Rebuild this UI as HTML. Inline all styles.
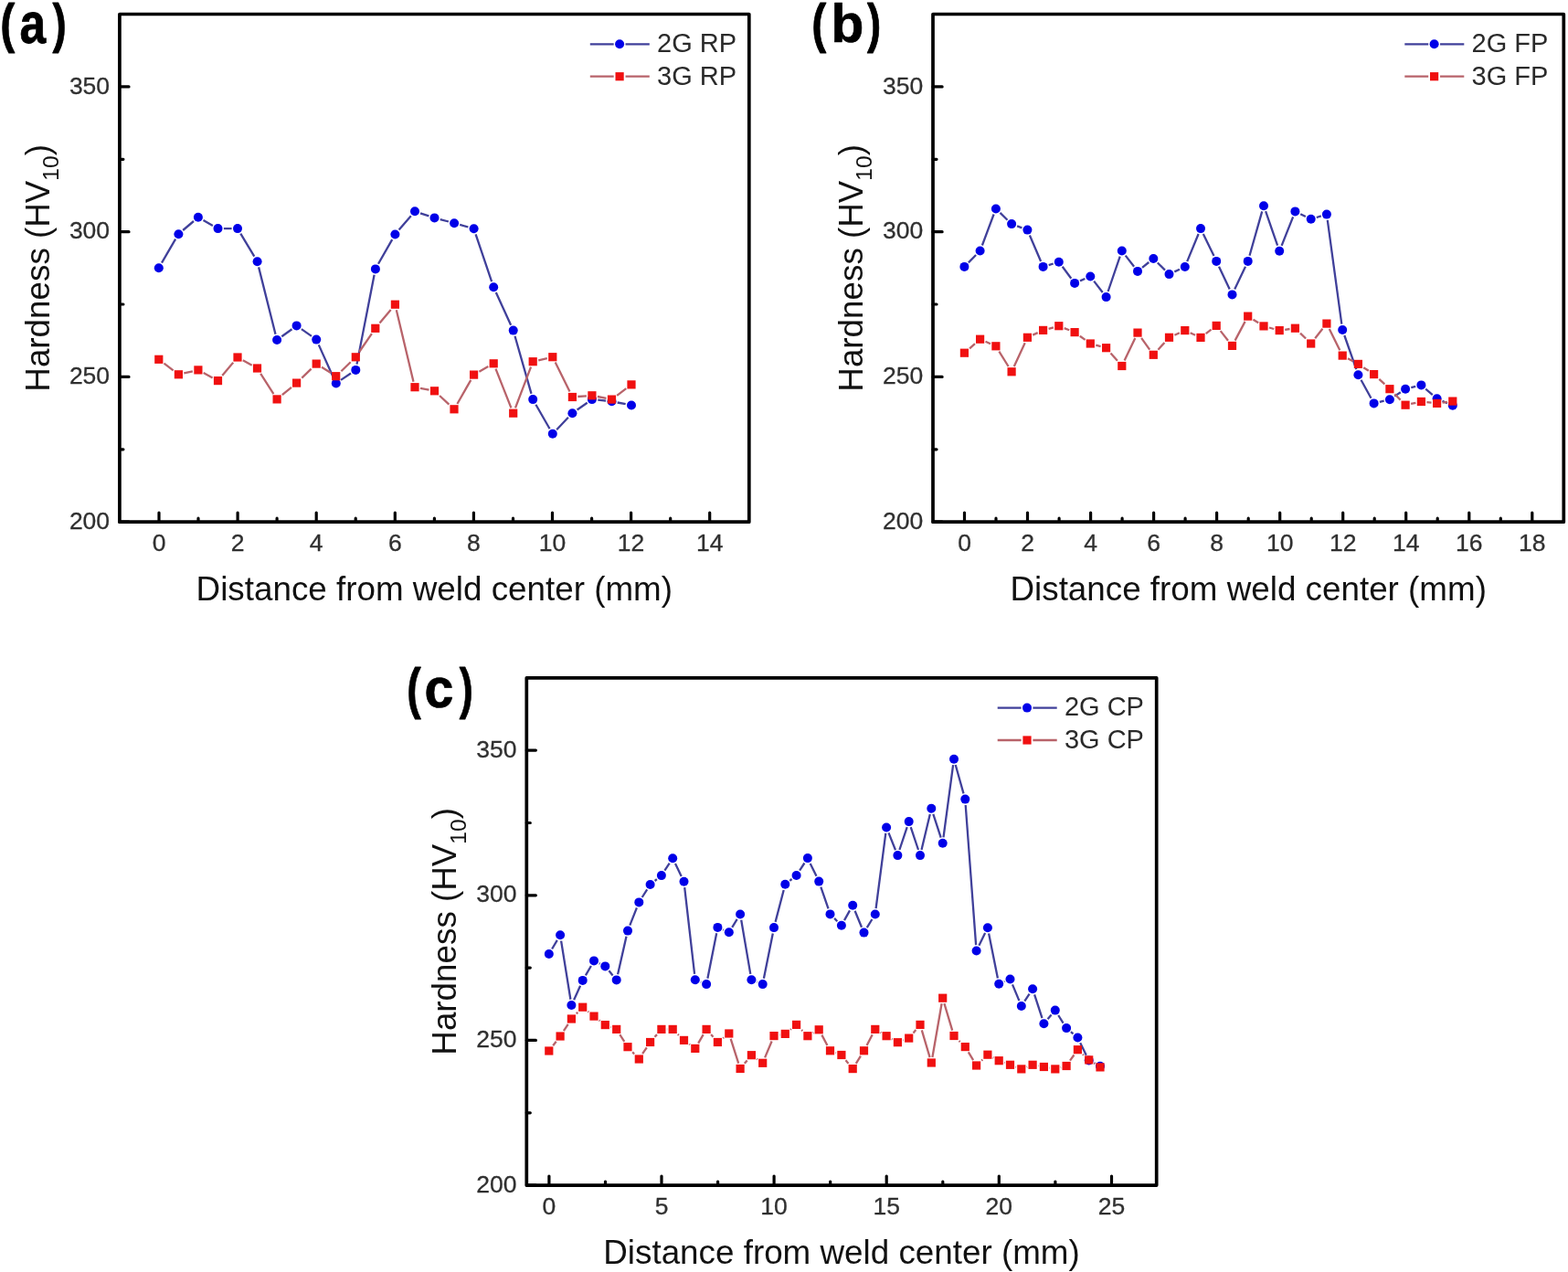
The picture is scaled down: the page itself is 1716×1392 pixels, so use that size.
<!DOCTYPE html><html><head><meta charset="utf-8"><title>Hardness profiles</title><style>
html,body{margin:0;padding:0;background:#fff;width:1716px;height:1392px;overflow:hidden}
svg{display:block}
text{font-family:"Liberation Sans", Arial, Helvetica, sans-serif}
.tl{font-size:26.5px;fill:#303030;stroke:#303030;stroke-width:0.3px}
.ax{font-size:36.8px;fill:#111}
.lg{font-size:29px;fill:#2a2a2a}
.pl{font-size:100px;font-weight:bold;fill:#000;stroke:#000;stroke-width:0.7px;vector-effect:non-scaling-stroke;stroke-linejoin:round}
</style></head><body>
<svg width="1716" height="1392" viewBox="0 0 1716 1392">
<rect width="1716" height="1392" fill="#fff"/>
<g id="panel-a">
<path d="M130.9 571.2H141M130.9 412.4H141M130.9 253.7H141M130.9 94.9H141M130.9 491.8H134.9M130.9 333H134.9M130.9 174.3H134.9M174 571.2V561.1M217 571.2V567.2M260.1 571.2V561.1M303.1 571.2V567.2M346.2 571.2V561.1M389.2 571.2V567.2M432.3 571.2V561.1M475.4 571.2V567.2M518.4 571.2V561.1M561.5 571.2V567.2M604.5 571.2V561.1M647.6 571.2V567.2M690.6 571.2V561.1M733.7 571.2V567.2M776.7 571.2V561.1" stroke="#000" stroke-width="3.2" stroke-linecap="round" fill="none"/>
<rect x="130.9" y="15.5" width="688.9" height="555.7" fill="none" stroke="#000" stroke-width="3.7" stroke-linejoin="round"/>
<text class="tl" x="120.1" y="578.8" text-anchor="end">200</text>
<text class="tl" x="120.1" y="420" text-anchor="end">250</text>
<text class="tl" x="120.1" y="261.3" text-anchor="end">300</text>
<text class="tl" x="120.1" y="102.5" text-anchor="end">350</text>
<text class="tl" x="174" y="603.2" text-anchor="middle">0</text>
<text class="tl" x="260.1" y="603.2" text-anchor="middle">2</text>
<text class="tl" x="346.2" y="603.2" text-anchor="middle">4</text>
<text class="tl" x="432.3" y="603.2" text-anchor="middle">6</text>
<text class="tl" x="518.4" y="603.2" text-anchor="middle">8</text>
<text class="tl" x="604.5" y="603.2" text-anchor="middle">10</text>
<text class="tl" x="690.6" y="603.2" text-anchor="middle">12</text>
<text class="tl" x="776.7" y="603.2" text-anchor="middle">14</text>
<text class="ax" x="475.3" y="656.7" text-anchor="middle">Distance from weld center (mm)</text>
<text class="ax" transform="translate(53.7 293.4) rotate(-90)" text-anchor="middle">Hardness (HV<tspan font-size="24.5px" dy="10.6">10</tspan><tspan dy="-10.6">)</tspan></text>
<path d="M177 287.7L192.1 261.7M200.2 252L212 242M222.5 241L232.9 246.9M244.9 250.1L253.6 250.1M263.3 255.6L278.3 280.7M283.1 292.4L301.5 365.8M308.3 368.2L319.5 360.2M329.9 360.1L341 367.9M348.8 377.4L365.1 413.7M373 415.9L384 408.5M390.5 398.6L409.6 300.7M414 288.8L429.2 262.1M436.6 251.6L449.8 236.2M460 233.3L469.4 236.4M481.7 240.1L490.9 242.5M503.2 245.9L512.4 248.5M520.6 256.3L538.1 308.1M542.8 320L559.1 355.8M563.5 367.8L581.5 430.9M586.4 442.7L601.6 469.2M609.2 470.2L621.9 456.8M631.6 448.5L642.7 440.8M654.3 437.7L663.1 438.6M675.7 440.5L684.7 442.2" stroke="#40409a" stroke-width="2.3" fill="none"/>
<g fill="#0000e8"><circle cx="173.8" cy="293.2" r="5.0"/><circle cx="195.4" cy="256.2" r="5.0"/><circle cx="216.9" cy="237.8" r="5.0"/><circle cx="238.5" cy="250.1" r="5.0"/><circle cx="260" cy="250.1" r="5.0"/><circle cx="281.6" cy="286.2" r="5.0"/><circle cx="303.1" cy="372" r="5.0"/><circle cx="324.6" cy="356.4" r="5.0"/><circle cx="346.2" cy="371.6" r="5.0"/><circle cx="367.8" cy="419.5" r="5.0"/><circle cx="389.3" cy="404.9" r="5.0"/><circle cx="410.9" cy="294.4" r="5.0"/><circle cx="432.4" cy="256.5" r="5.0"/><circle cx="454" cy="231.3" r="5.0"/><circle cx="475.5" cy="238.4" r="5.0"/><circle cx="497.1" cy="244.2" r="5.0"/><circle cx="518.6" cy="250.2" r="5.0"/><circle cx="540.2" cy="314.2" r="5.0"/><circle cx="561.7" cy="361.6" r="5.0"/><circle cx="583.2" cy="437.1" r="5.0"/><circle cx="604.8" cy="474.8" r="5.0"/><circle cx="626.4" cy="452.2" r="5.0"/><circle cx="647.9" cy="437.1" r="5.0"/><circle cx="669.5" cy="439.2" r="5.0"/><circle cx="691" cy="443.5" r="5.0"/></g>
<path d="M179.5 397.7L189.6 405.4M201.3 408.4L210.9 406.3M222.7 408.1L232.6 413.4M243.2 410.9L255.2 396.7M265.8 394.2L275.7 399.8M285.2 408.8L299.4 431.1M308.8 432.2L319 423.8M330.3 413.6L340.6 403.6M352 401.8L362 408M373.4 406.3L383.7 396.2M393.2 385L406.9 365.1M415.5 353.6L427.7 338.9M433.8 339.2L452.5 417.7M459.9 424.8L469.5 426.7M481.1 433L491.4 442.6M500.4 442L515.3 415.9M524.4 406.8L534.3 401.1M542.5 403.7L559.4 446.3M564 446.3L581 401.6M589.2 394.3L598.8 392.1M607.7 396.6L623.5 428.6M632.3 434L641.9 433.3M653.9 434L663.5 435.9M675.2 432.8L685.3 425.2" stroke="#b8636a" stroke-width="2.3" fill="none"/>
<g fill="#f01010"><rect x="169.2" y="388.7" width="9.2" height="9.2"/><rect x="190.8" y="405.2" width="9.2" height="9.2"/><rect x="212.3" y="400.3" width="9.2" height="9.2"/><rect x="233.9" y="412" width="9.2" height="9.2"/><rect x="255.4" y="386.4" width="9.2" height="9.2"/><rect x="276.9" y="398.4" width="9.2" height="9.2"/><rect x="298.5" y="432.3" width="9.2" height="9.2"/><rect x="320" y="414.5" width="9.2" height="9.2"/><rect x="341.6" y="393.5" width="9.2" height="9.2"/><rect x="363.1" y="407.1" width="9.2" height="9.2"/><rect x="384.7" y="386.2" width="9.2" height="9.2"/><rect x="406.2" y="354.7" width="9.2" height="9.2"/><rect x="427.8" y="328.6" width="9.2" height="9.2"/><rect x="449.4" y="419.1" width="9.2" height="9.2"/><rect x="470.9" y="423.2" width="9.2" height="9.2"/><rect x="492.4" y="443.2" width="9.2" height="9.2"/><rect x="514" y="405.5" width="9.2" height="9.2"/><rect x="535.6" y="393.2" width="9.2" height="9.2"/><rect x="557.1" y="447.6" width="9.2" height="9.2"/><rect x="578.6" y="391.1" width="9.2" height="9.2"/><rect x="600.2" y="386.1" width="9.2" height="9.2"/><rect x="621.8" y="429.9" width="9.2" height="9.2"/><rect x="643.3" y="428.2" width="9.2" height="9.2"/><rect x="664.9" y="432.5" width="9.2" height="9.2"/><rect x="686.4" y="416.3" width="9.2" height="9.2"/></g>
<path d="M645.8 48.3H671.7M684.5 48.3H710.8" stroke="#40409a" stroke-width="2.3" fill="none"/>
<circle cx="678.1" cy="48.3" r="5.0" fill="#0000e8"/>
<text class="lg" x="719" y="57.1">2G RP</text>
<path d="M645.8 83.7H671.7M684.5 83.7H710.8" stroke="#b8636a" stroke-width="2.3" fill="none"/>
<rect x="673.5" y="79.1" width="9.2" height="9.2" fill="#f01010"/>
<text class="lg" x="719" y="92.5">3G RP</text>
</g>
<g id="panel-b">
<path d="M1021 571.2H1031.1M1021 412.4H1031.1M1021 253.7H1031.1M1021 94.9H1031.1M1021 491.8H1025M1021 333H1025M1021 174.3H1025M1055.5 571.2V561.1M1090 571.2V567.2M1124.5 571.2V561.1M1159.1 571.2V567.2M1193.6 571.2V561.1M1228.1 571.2V567.2M1262.6 571.2V561.1M1297.1 571.2V567.2M1331.6 571.2V561.1M1366.2 571.2V567.2M1400.7 571.2V561.1M1435.2 571.2V567.2M1469.7 571.2V561.1M1504.2 571.2V567.2M1538.7 571.2V561.1M1573.2 571.2V567.2M1607.8 571.2V561.1M1642.3 571.2V567.2M1676.8 571.2V561.1" stroke="#000" stroke-width="3.2" stroke-linecap="round" fill="none"/>
<rect x="1021" y="15.5" width="690.3" height="555.7" fill="none" stroke="#000" stroke-width="3.7" stroke-linejoin="round"/>
<text class="tl" x="1010.2" y="578.8" text-anchor="end">200</text>
<text class="tl" x="1010.2" y="420" text-anchor="end">250</text>
<text class="tl" x="1010.2" y="261.3" text-anchor="end">300</text>
<text class="tl" x="1010.2" y="102.5" text-anchor="end">350</text>
<text class="tl" x="1055.5" y="603.2" text-anchor="middle">0</text>
<text class="tl" x="1124.5" y="603.2" text-anchor="middle">2</text>
<text class="tl" x="1193.6" y="603.2" text-anchor="middle">4</text>
<text class="tl" x="1262.6" y="603.2" text-anchor="middle">6</text>
<text class="tl" x="1331.6" y="603.2" text-anchor="middle">8</text>
<text class="tl" x="1400.7" y="603.2" text-anchor="middle">10</text>
<text class="tl" x="1469.7" y="603.2" text-anchor="middle">12</text>
<text class="tl" x="1538.7" y="603.2" text-anchor="middle">14</text>
<text class="tl" x="1607.8" y="603.2" text-anchor="middle">16</text>
<text class="tl" x="1676.8" y="603.2" text-anchor="middle">18</text>
<text class="ax" x="1366.2" y="656.7" text-anchor="middle">Distance from weld center (mm)</text>
<text class="ax" transform="translate(943.8 293.4) rotate(-90)" text-anchor="middle">Hardness (HV<tspan font-size="24.5px" dy="10.6">10</tspan><tspan dy="-10.6">)</tspan></text>
<path d="M1059.9 287.4L1068.1 279M1074.9 268.5L1087.6 234.5M1094.5 232.9L1102.5 240.7M1113.1 247.4L1118.4 249.3M1126.9 257.5L1139.1 286M1147.7 290.1L1152.7 288.5M1162.7 291.8L1172.3 304.8M1182 307.4L1187.4 305M1197.2 307.6L1206.7 320M1212.6 319L1225.7 280.6M1231.7 279.6L1241.1 291.8M1250 292.9L1257.3 287M1266.8 287.5L1275 295.6M1285.3 297.4L1291 294.7M1299.2 286.1L1311.6 256M1316.8 255.9L1328.5 280.1M1334 291.7L1345.7 316.6M1351.2 316.6L1363 291.7M1367.5 279.7L1381.2 231.4M1385.1 231.2L1398.1 268.7M1402.6 268.8L1415.1 237.3M1423.2 234.2L1428.9 237M1440.8 238L1445.8 236.4M1452.8 240.9L1468.3 354.7M1471.3 367L1484.3 404.2M1489.5 415.8L1500.5 435.8M1509.9 439.9L1514.7 438.7M1526.2 433.6L1532.8 429.3M1544.3 424.2L1549.2 422.9M1560.2 425.6L1567.8 432.1M1578.5 438.9L1584 441.2" stroke="#40409a" stroke-width="2.3" fill="none"/>
<g fill="#0000e8"><circle cx="1055.4" cy="291.9" r="5.0"/><circle cx="1072.6" cy="274.5" r="5.0"/><circle cx="1089.9" cy="228.5" r="5.0"/><circle cx="1107.1" cy="245.1" r="5.0"/><circle cx="1124.4" cy="251.6" r="5.0"/><circle cx="1141.6" cy="291.9" r="5.0"/><circle cx="1158.8" cy="286.7" r="5.0"/><circle cx="1176.1" cy="309.9" r="5.0"/><circle cx="1193.3" cy="302.5" r="5.0"/><circle cx="1210.6" cy="325.1" r="5.0"/><circle cx="1227.8" cy="274.5" r="5.0"/><circle cx="1245" cy="296.9" r="5.0"/><circle cx="1262.3" cy="283" r="5.0"/><circle cx="1279.5" cy="300.1" r="5.0"/><circle cx="1296.8" cy="292" r="5.0"/><circle cx="1314" cy="250.1" r="5.0"/><circle cx="1331.2" cy="285.9" r="5.0"/><circle cx="1348.5" cy="322.4" r="5.0"/><circle cx="1365.7" cy="285.9" r="5.0"/><circle cx="1383" cy="225.2" r="5.0"/><circle cx="1400.2" cy="274.7" r="5.0"/><circle cx="1417.4" cy="231.4" r="5.0"/><circle cx="1434.7" cy="239.8" r="5.0"/><circle cx="1451.9" cy="234.6" r="5.0"/><circle cx="1469.2" cy="361" r="5.0"/><circle cx="1486.4" cy="410.2" r="5.0"/><circle cx="1503.6" cy="441.4" r="5.0"/><circle cx="1520.9" cy="437.2" r="5.0"/><circle cx="1538.1" cy="425.7" r="5.0"/><circle cx="1555.4" cy="421.4" r="5.0"/><circle cx="1572.6" cy="436.3" r="5.0"/><circle cx="1589.8" cy="443.8" r="5.0"/></g>
<path d="M1061.1 381.3L1067 376.1M1078.5 373.8L1084 376.2M1093.4 384.6L1103.6 401M1109.8 400.9L1121.7 375.2M1130.2 366.6L1135.7 364.1M1147.6 359.8L1152.9 358.3M1164.7 359.1L1170.2 361.2M1181.8 367.7L1187.6 371.9M1199.3 377.6L1204.6 379.1M1215.5 386.4L1222.9 394.8M1230.6 394.6L1242.3 370M1249.1 369.8L1258.2 382.6M1267.4 382.7L1274.4 374.9M1285.4 366.7L1290.9 364.2M1302.6 364.3L1308.1 366.7M1319.7 365.1L1325.5 360.7M1335.7 362.1L1344 372.7M1351.6 372.6L1362.6 351.9M1371.5 349.7L1377.2 353.3M1388.9 358.5L1394.2 360M1406.2 360.8L1411.5 360M1423 364.7L1429.1 370.5M1439.2 370.3L1447.4 359.8M1454.8 360L1466.3 383.2M1475 392.2L1480.6 395.3M1492.2 402.2L1497.9 405.8M1509.3 414.9L1515.3 420.4M1526.4 431.3L1532.6 437.6M1544.1 441.9L1549.4 440.8M1561.4 440.2L1566.6 440.7M1578.6 440.6L1583.9 439.9" stroke="#b8636a" stroke-width="2.3" fill="none"/>
<g fill="#f01010"><rect x="1050.8" y="381.6" width="9.2" height="9.2"/><rect x="1068" y="366.6" width="9.2" height="9.2"/><rect x="1085.3" y="374.2" width="9.2" height="9.2"/><rect x="1102.5" y="402.2" width="9.2" height="9.2"/><rect x="1119.8" y="364.7" width="9.2" height="9.2"/><rect x="1137" y="356.8" width="9.2" height="9.2"/><rect x="1154.2" y="352.1" width="9.2" height="9.2"/><rect x="1171.5" y="359" width="9.2" height="9.2"/><rect x="1188.7" y="371.4" width="9.2" height="9.2"/><rect x="1206" y="376.1" width="9.2" height="9.2"/><rect x="1223.2" y="395.9" width="9.2" height="9.2"/><rect x="1240.4" y="359.5" width="9.2" height="9.2"/><rect x="1257.7" y="383.7" width="9.2" height="9.2"/><rect x="1274.9" y="364.7" width="9.2" height="9.2"/><rect x="1292.2" y="357" width="9.2" height="9.2"/><rect x="1309.4" y="364.8" width="9.2" height="9.2"/><rect x="1326.6" y="351.8" width="9.2" height="9.2"/><rect x="1343.9" y="373.8" width="9.2" height="9.2"/><rect x="1361.1" y="341.5" width="9.2" height="9.2"/><rect x="1378.4" y="352.3" width="9.2" height="9.2"/><rect x="1395.6" y="357" width="9.2" height="9.2"/><rect x="1412.8" y="354.6" width="9.2" height="9.2"/><rect x="1430.1" y="371.4" width="9.2" height="9.2"/><rect x="1447.3" y="349.5" width="9.2" height="9.2"/><rect x="1464.6" y="384.5" width="9.2" height="9.2"/><rect x="1481.8" y="393.8" width="9.2" height="9.2"/><rect x="1499" y="405" width="9.2" height="9.2"/><rect x="1516.3" y="421.1" width="9.2" height="9.2"/><rect x="1533.5" y="438.6" width="9.2" height="9.2"/><rect x="1550.8" y="434.9" width="9.2" height="9.2"/><rect x="1568" y="436.8" width="9.2" height="9.2"/><rect x="1585.2" y="434.5" width="9.2" height="9.2"/></g>
<path d="M1537.3 48.3H1563.2M1576 48.3H1602.3" stroke="#40409a" stroke-width="2.3" fill="none"/>
<circle cx="1569.6" cy="48.3" r="5.0" fill="#0000e8"/>
<text class="lg" x="1610.5" y="57.1">2G FP</text>
<path d="M1537.3 83.7H1563.2M1576 83.7H1602.3" stroke="#b8636a" stroke-width="2.3" fill="none"/>
<rect x="1565" y="79.1" width="9.2" height="9.2" fill="#f01010"/>
<text class="lg" x="1610.5" y="92.5">3G FP</text>
</g>
<g id="panel-c">
<path d="M576.3 1297.1H586.4M576.3 1138.4H586.4M576.3 979.8H586.4M576.3 821.1H586.4M576.3 1217.8H580.3M576.3 1059.1H580.3M576.3 900.5H580.3M600.9 1297.1V1287M662.5 1297.1V1293.1M724 1297.1V1287M785.6 1297.1V1293.1M847.1 1297.1V1287M908.7 1297.1V1293.1M970.2 1297.1V1287M1031.8 1297.1V1293.1M1093.3 1297.1V1287M1154.9 1297.1V1293.1M1216.5 1297.1V1287" stroke="#000" stroke-width="3.2" stroke-linecap="round" fill="none"/>
<rect x="576.3" y="741.8" width="689.4" height="555.3" fill="none" stroke="#000" stroke-width="3.7" stroke-linejoin="round"/>
<text class="tl" x="565.5" y="1304.7" text-anchor="end">200</text>
<text class="tl" x="565.5" y="1146" text-anchor="end">250</text>
<text class="tl" x="565.5" y="987.4" text-anchor="end">300</text>
<text class="tl" x="565.5" y="828.7" text-anchor="end">350</text>
<text class="tl" x="600.9" y="1329.1" text-anchor="middle">0</text>
<text class="tl" x="724" y="1329.1" text-anchor="middle">5</text>
<text class="tl" x="847.1" y="1329.1" text-anchor="middle">10</text>
<text class="tl" x="970.2" y="1329.1" text-anchor="middle">15</text>
<text class="tl" x="1093.3" y="1329.1" text-anchor="middle">20</text>
<text class="tl" x="1216.5" y="1329.1" text-anchor="middle">25</text>
<text class="ax" x="921" y="1382.6" text-anchor="middle">Distance from weld center (mm)</text>
<text class="ax" transform="translate(499.1 1019.4) rotate(-90)" text-anchor="middle">Hardness (HV<tspan font-size="24.5px" dy="10.6">10</tspan><tspan dy="-10.6">)</tspan></text>
<path d="M604.1 1038.5L609.8 1028.8M614.1 1029.6L624.4 1093.7M628.1 1094.2L635.1 1078.7M640.9 1067.3L646.9 1057M655.8 1054.2L656.6 1054.6M666.4 1062.3L670.6 1067.5M676.1 1066.2L685.5 1024.8M689.3 1012.6L696.9 993.4M702.7 982L708.2 973.4M716.6 964L718.9 962.1M727.4 952.7L732.7 944.7M739 945.1L745.7 959M749.2 971.2L760.1 1065.9M766.8 1074.6L767.2 1074.8M774.4 1070.8L784.2 1021.2M791.3 1017.4L791.9 1017.7M801.2 1014.8L806.7 1005.9M811.2 1006.8L821.3 1065.9M828.3 1074.6L828.7 1074.7M835.9 1070.8L845.8 1021.4M848.6 1008.9L857.7 974M864.3 963.8L866.6 962M875.1 952.6L880.4 944.5M886.7 944.9L893.5 958.8M898.3 970.7L906.5 994.3M913.1 1004.9L916.3 1008.2M924 1007.1L930 996.4M935.6 996.7L943 1014.7M948.8 1015.1L954.4 1006M958.6 994.2L969.3 911.8M972.5 911.4L980 930.2M984.4 930L992.7 905.2M996.7 905.2L1005 930M1008.5 929.9L1017.8 890.9M1021.3 890.8L1029.7 916.6M1032.5 916.4L1043.1 837.1M1045.7 837L1054.5 868.4M1056.7 881L1068.1 1034.1M1071.4 1034.7L1078.1 1021M1082.1 1021.5L1091.9 1070.5M1099.1 1074.3L1099.6 1074M1108 1077.4L1115.4 1095.1M1121.3 1095.7L1126.6 1087.6M1132.1 1088.4L1140.5 1114.1M1146.6 1115.3L1150.6 1110.5M1158.2 1111L1163.6 1119.7M1171.9 1129.2L1174.5 1131.4M1182.2 1141.2L1188.8 1154.7M1197.4 1163.4L1198.3 1163.8" stroke="#40409a" stroke-width="2.3" fill="none"/>
<g fill="#0000e8"><circle cx="600.8" cy="1044" r="5.0"/><circle cx="613.1" cy="1023.3" r="5.0"/><circle cx="625.4" cy="1100" r="5.0"/><circle cx="637.7" cy="1072.9" r="5.0"/><circle cx="650" cy="1051.4" r="5.0"/><circle cx="662.3" cy="1057.4" r="5.0"/><circle cx="674.7" cy="1072.4" r="5.0"/><circle cx="687" cy="1018.6" r="5.0"/><circle cx="699.3" cy="987.4" r="5.0"/><circle cx="711.6" cy="968" r="5.0"/><circle cx="723.9" cy="958.1" r="5.0"/><circle cx="736.2" cy="939.3" r="5.0"/><circle cx="748.5" cy="964.8" r="5.0"/><circle cx="760.8" cy="1072.3" r="5.0"/><circle cx="773.1" cy="1077.1" r="5.0"/><circle cx="785.4" cy="1014.9" r="5.0"/><circle cx="797.8" cy="1020.2" r="5.0"/><circle cx="810.1" cy="1000.5" r="5.0"/><circle cx="822.4" cy="1072.2" r="5.0"/><circle cx="834.7" cy="1077.1" r="5.0"/><circle cx="847" cy="1015.1" r="5.0"/><circle cx="859.3" cy="967.8" r="5.0"/><circle cx="871.6" cy="958" r="5.0"/><circle cx="883.9" cy="939.1" r="5.0"/><circle cx="896.2" cy="964.6" r="5.0"/><circle cx="908.5" cy="1000.4" r="5.0"/><circle cx="920.9" cy="1012.7" r="5.0"/><circle cx="933.2" cy="990.8" r="5.0"/><circle cx="945.5" cy="1020.6" r="5.0"/><circle cx="957.8" cy="1000.5" r="5.0"/><circle cx="970.1" cy="905.5" r="5.0"/><circle cx="982.4" cy="936.1" r="5.0"/><circle cx="994.7" cy="899.1" r="5.0"/><circle cx="1007" cy="936.1" r="5.0"/><circle cx="1019.3" cy="884.7" r="5.0"/><circle cx="1031.7" cy="922.7" r="5.0"/><circle cx="1044" cy="830.8" r="5.0"/><circle cx="1056.3" cy="874.6" r="5.0"/><circle cx="1068.6" cy="1040.5" r="5.0"/><circle cx="1080.9" cy="1015.2" r="5.0"/><circle cx="1093.2" cy="1076.8" r="5.0"/><circle cx="1105.5" cy="1071.5" r="5.0"/><circle cx="1117.8" cy="1101" r="5.0"/><circle cx="1130.1" cy="1082.3" r="5.0"/><circle cx="1142.4" cy="1120.2" r="5.0"/><circle cx="1154.8" cy="1105.6" r="5.0"/><circle cx="1167.1" cy="1125.1" r="5.0"/><circle cx="1179.4" cy="1135.5" r="5.0"/><circle cx="1191.7" cy="1160.4" r="5.0"/><circle cx="1204" cy="1166.8" r="5.0"/></g>
<path d="M605.2 1144.3L608.7 1139.7M616.9 1128.2L621.7 1120.8M630.8 1109.4L632.3 1107.8M643.4 1106.8L644.3 1107.5M655.7 1116.5L656.6 1117.2M668.3 1123.9L668.8 1124.1M678.3 1132.2L683.3 1139.9M692.2 1151.3L694.1 1153.4M703.1 1153.2L707.8 1146.3M716.5 1134.8L719 1132.1M729.9 1126.4L730.2 1126.4M741.8 1131.9L742.9 1132.9M754.3 1142.6L755.1 1143.2M764.2 1141.6L769.7 1132.2M778.1 1132.1L780.5 1134.8M791.2 1136.1L792.1 1135.4M799.7 1136.9L808.2 1163.6M814.8 1163.8L817.7 1160.4M828.1 1158.7L828.9 1159.3M837.1 1157.4L844.6 1139.5M853 1132.5L853.3 1132.5M865 1126.8L865.9 1126M877.2 1127L878.3 1128.1M889.8 1130.4L890.4 1130.1M899.4 1132.6L905.4 1144M914.5 1152.1L915 1152.2M925.5 1160.2L928.5 1163.9M936.8 1163.8L941.9 1155.6M948.6 1144L954.7 1132.2M963.6 1129.8L964.3 1130.3M975.9 1137L976.6 1137.4M988.3 1138.5L988.8 1138.3M999.5 1130.4L1002.3 1127.1M1008.8 1127.3L1017.6 1157.1M1020.4 1157L1030.6 1098.2M1033.4 1098.1L1042.2 1127.6M1049.6 1139L1050.7 1140.1M1059.8 1151.4L1065.1 1160.2M1074.2 1160.6L1075.3 1159.6M1086.7 1157.3L1087.4 1157.6M1099.1 1162.9L1099.6 1163.1M1111.4 1167.5L1111.9 1167.7M1123.7 1167.7L1124.2 1167.5M1136.1 1166.4L1136.5 1166.4M1148.4 1168.7L1148.8 1168.7M1160.7 1168.3L1161.1 1168.1M1171 1160.7L1175.4 1154.5M1185 1153.8L1186 1154.8M1197.5 1163.7L1198.2 1164.1" stroke="#b8636a" stroke-width="2.3" fill="none"/>
<g fill="#f01010"><rect x="596.2" y="1145.4" width="9.2" height="9.2"/><rect x="608.5" y="1129.4" width="9.2" height="9.2"/><rect x="620.8" y="1110.4" width="9.2" height="9.2"/><rect x="633.1" y="1097.6" width="9.2" height="9.2"/><rect x="645.4" y="1107.5" width="9.2" height="9.2"/><rect x="657.7" y="1117" width="9.2" height="9.2"/><rect x="670.1" y="1121.8" width="9.2" height="9.2"/><rect x="682.4" y="1141.1" width="9.2" height="9.2"/><rect x="694.7" y="1154.4" width="9.2" height="9.2"/><rect x="707" y="1135.9" width="9.2" height="9.2"/><rect x="719.3" y="1121.8" width="9.2" height="9.2"/><rect x="731.6" y="1121.8" width="9.2" height="9.2"/><rect x="743.9" y="1133.8" width="9.2" height="9.2"/><rect x="756.2" y="1142.8" width="9.2" height="9.2"/><rect x="768.5" y="1121.8" width="9.2" height="9.2"/><rect x="780.8" y="1135.9" width="9.2" height="9.2"/><rect x="793.2" y="1126.4" width="9.2" height="9.2"/><rect x="805.5" y="1164.9" width="9.2" height="9.2"/><rect x="817.8" y="1150.1" width="9.2" height="9.2"/><rect x="830.1" y="1158.7" width="9.2" height="9.2"/><rect x="842.4" y="1129" width="9.2" height="9.2"/><rect x="854.7" y="1126.8" width="9.2" height="9.2"/><rect x="867" y="1116.8" width="9.2" height="9.2"/><rect x="879.3" y="1129.1" width="9.2" height="9.2"/><rect x="891.6" y="1122.2" width="9.2" height="9.2"/><rect x="903.9" y="1145.2" width="9.2" height="9.2"/><rect x="916.3" y="1149.9" width="9.2" height="9.2"/><rect x="928.6" y="1165" width="9.2" height="9.2"/><rect x="940.9" y="1145.2" width="9.2" height="9.2"/><rect x="953.2" y="1121.8" width="9.2" height="9.2"/><rect x="965.5" y="1129.1" width="9.2" height="9.2"/><rect x="977.8" y="1136.1" width="9.2" height="9.2"/><rect x="990.1" y="1131.5" width="9.2" height="9.2"/><rect x="1002.4" y="1116.8" width="9.2" height="9.2"/><rect x="1014.7" y="1158.4" width="9.2" height="9.2"/><rect x="1027.1" y="1087.6" width="9.2" height="9.2"/><rect x="1039.4" y="1128.9" width="9.2" height="9.2"/><rect x="1051.7" y="1141" width="9.2" height="9.2"/><rect x="1064" y="1161.4" width="9.2" height="9.2"/><rect x="1076.3" y="1149.6" width="9.2" height="9.2"/><rect x="1088.6" y="1156.1" width="9.2" height="9.2"/><rect x="1100.9" y="1160.7" width="9.2" height="9.2"/><rect x="1113.2" y="1165.3" width="9.2" height="9.2"/><rect x="1125.5" y="1160.7" width="9.2" height="9.2"/><rect x="1137.8" y="1162.9" width="9.2" height="9.2"/><rect x="1150.2" y="1165.3" width="9.2" height="9.2"/><rect x="1162.5" y="1161.9" width="9.2" height="9.2"/><rect x="1174.8" y="1144.1" width="9.2" height="9.2"/><rect x="1187.1" y="1155.3" width="9.2" height="9.2"/><rect x="1199.4" y="1163.3" width="9.2" height="9.2"/></g>
<path d="M1091.7 774.6H1117.6M1130.4 774.6H1156.7" stroke="#40409a" stroke-width="2.3" fill="none"/>
<circle cx="1124" cy="774.6" r="5.0" fill="#0000e8"/>
<text class="lg" x="1164.9" y="783.4">2G CP</text>
<path d="M1091.7 810H1117.6M1130.4 810H1156.7" stroke="#b8636a" stroke-width="2.3" fill="none"/>
<rect x="1119.4" y="805.4" width="9.2" height="9.2" fill="#f01010"/>
<text class="lg" x="1164.9" y="818.8">3G CP</text>
</g>
<g>
<text class="pl" transform="matrix(0.4804 0 0 0.5976 0.15 46.18)">(</text>
<text class="pl" transform="matrix(0.5159 0 0 0.6307 21.45 46.98)">a</text>
<text class="pl" transform="matrix(0.4591 0 0 0.5976 57.60 46.18)">)</text>
<text class="pl" transform="matrix(0.4804 0 0 0.6009 888.35 46.41)">(</text>
<text class="pl" transform="matrix(0.5865 0 0 0.5967 909.58 46.11)">b</text>
<text class="pl" transform="matrix(0.4555 0 0 0.6009 949.00 46.41)">)</text>
<text class="pl" transform="matrix(0.4626 0 0 0.6062 445.34 773.90)">(</text>
<text class="pl" transform="matrix(0.5729 0 0 0.6161 464.62 774.10)">c</text>
<text class="pl" transform="matrix(0.4520 0 0 0.6062 502.70 773.90)">)</text>
</g>
</svg></body></html>
